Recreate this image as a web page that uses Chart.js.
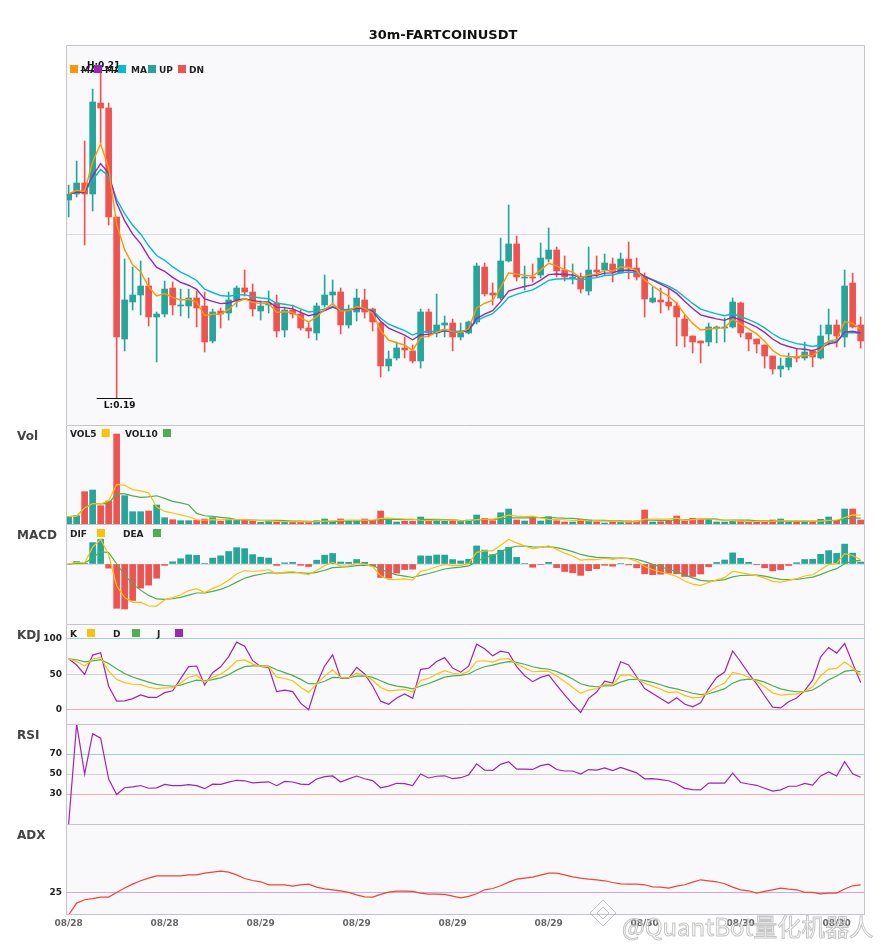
<!DOCTYPE html>
<html>
<head>
<meta charset="utf-8">
<title>30m-FARTCOINUSDT</title>
<script src="https://cdn.jsdelivr.net/npm/chart.js@4.4.1/dist/chart.umd.min.js"></script>
<style>
  body { margin: 0; background: #fff; }
  #wrap { position: relative; width: 885px; height: 950px; }
  #wrap canvas { position: absolute; left: 0; }
</style>
</head>
<body>
<div id="wrap">
  <canvas id="main" width="885" height="425" style="top:0px"></canvas>
  <canvas id="vol" width="885" height="99" style="top:425px"></canvas>
  <canvas id="macd" width="885" height="100" style="top:524px"></canvas>
  <canvas id="kdj" width="885" height="100" style="top:624px"></canvas>
  <canvas id="rsi" width="885" height="100" style="top:724px"></canvas>
  <canvas id="adx" width="885" height="126" style="top:824px"></canvas>
</div>
<script>
// 30m candles
const opens = [0.20175,0.20205,0.2026,0.20205,0.2066,0.20635,0.2009,0.1948,0.19665,0.197,
  0.19745,0.1959,0.19605,0.19735,0.19645,0.19645,0.19685,0.19645,0.1947,0.1962,
  0.1961,0.19675,0.19735,0.19715,0.1962,0.1965,0.1966,0.19525,0.19625,0.19605,
  0.19535,0.1951,0.1965,0.197,0.19715,0.1955,0.19615,0.19675,0.1963,0.1956,
  0.19345,0.19385,0.19435,0.1942,0.1937,0.19615,0.1951,0.1955,0.1956,0.1949,
  0.1951,0.19565,0.1984,0.1971,0.19685,0.1987,0.19955,0.19785,0.1979,0.198,
  0.1988,0.19925,0.19825,0.19785,0.1979,0.1972,0.19825,0.19825,0.19855,0.1981,
  0.1988,0.19835,0.1979,0.19665,0.19675,0.19665,0.19645,0.1958,0.19495,0.1947,
  0.19465,0.19535,0.19535,0.1954,0.1966,0.1951,0.1948,0.1945,0.19395,0.1933,
  0.1934,0.1939,0.19385,0.1942,0.19385,0.19505,0.1955,0.1949,0.1976,0.1955];
const highs = [0.2025,0.2037,0.2047,0.2073,0.20825,0.2066,0.2009,0.1988,0.1984,0.1987,
  0.19785,0.19615,0.1977,0.19765,0.1973,0.1973,0.1972,0.19715,0.1963,0.19635,
  0.19715,0.19745,0.19825,0.19755,0.1967,0.1972,0.197,0.1964,0.1965,0.19625,
  0.1956,0.1966,0.198,0.19775,0.19735,0.1965,0.1973,0.1973,0.19635,0.19565,
  0.1942,0.19465,0.1949,0.1945,0.1963,0.1963,0.19705,0.19595,0.1958,0.1956,
  0.1957,0.1986,0.1986,0.1976,0.19985,0.2015,0.19995,0.19845,0.19855,0.1996,
  0.20035,0.1994,0.19895,0.19855,0.1981,0.1994,0.19895,0.19905,0.19885,0.1991,
  0.19965,0.19885,0.1981,0.1974,0.19735,0.1973,0.19665,0.196,0.19495,0.1947,
  0.1956,0.19545,0.19585,0.19685,0.19665,0.1951,0.1948,0.1945,0.19395,0.19385,
  0.1941,0.1943,0.19465,0.19425,0.1955,0.1963,0.19575,0.19825,0.1981,0.1959];
const lows = [0.2009,0.2019,0.1995,0.2012,0.2046,0.2005,0.19185,0.1942,0.19625,0.196,
  0.19545,0.19365,0.1959,0.196,0.19595,0.19585,0.1954,0.19415,0.1946,0.19535,
  0.19575,0.1964,0.19695,0.19595,0.19575,0.1961,0.1949,0.1949,0.19585,0.19525,
  0.19485,0.19475,0.1964,0.1965,0.19505,0.19535,0.1957,0.19585,0.1952,0.1929,
  0.1932,0.19375,0.19385,0.1936,0.19335,0.1949,0.1949,0.1949,0.1942,0.19475,
  0.19505,0.19555,0.19695,0.1965,0.19675,0.19865,0.1977,0.19725,0.19765,0.19785,
  0.19865,0.1979,0.1977,0.19755,0.1971,0.197,0.1979,0.198,0.19765,0.1981,
  0.1978,0.19775,0.1959,0.1966,0.1961,0.19625,0.19445,0.1944,0.1941,0.1936,
  0.19445,0.1946,0.19465,0.19535,0.1949,0.1942,0.1941,0.19335,0.19305,0.1929,
  0.19325,0.19365,0.19375,0.1934,0.1938,0.1945,0.1944,0.1944,0.19535,0.19435];
const closes = [0.20205,0.2026,0.20205,0.20665,0.20635,0.2009,0.1949,0.19675,0.197,0.19745,
  0.1959,0.19605,0.1973,0.1965,0.1965,0.19685,0.19635,0.19465,0.19615,0.19605,
  0.19675,0.19735,0.19715,0.1963,0.19645,0.1966,0.1952,0.19625,0.19605,0.19535,
  0.1952,0.19645,0.197,0.19715,0.1955,0.1962,0.19685,0.19615,0.19565,0.19345,
  0.1938,0.19435,0.19425,0.1937,0.19615,0.1951,0.1955,0.1956,0.1949,0.1951,
  0.19565,0.19845,0.19705,0.197,0.1987,0.19955,0.1979,0.1979,0.19785,0.19885,
  0.19925,0.1982,0.1979,0.1979,0.1973,0.19825,0.19815,0.1986,0.19815,0.1988,
  0.19835,0.1979,0.1968,0.19685,0.19665,0.19645,0.1959,0.19495,0.19465,0.1946,
  0.1954,0.1954,0.1954,0.19665,0.1951,0.1948,0.19455,0.19395,0.1933,0.19345,
  0.19385,0.19385,0.19415,0.1939,0.19495,0.1955,0.19495,0.19745,0.1954,0.1947];
// volume in millions
const volumes = [0.73,0.83,3.23,3.40,1.83,2.30,9.00,2.83,1.23,1.23,
  1.30,1.90,0.63,0.43,0.33,0.33,0.37,0.50,0.63,0.27,
  0.43,0.43,0.37,0.27,0.17,0.30,0.23,0.23,0.20,0.20,
  0.20,0.33,0.50,0.27,0.50,0.33,0.33,0.50,0.33,1.30,
  0.43,0.20,0.27,0.27,0.70,0.27,0.43,0.27,0.37,0.27,
  0.40,0.90,0.57,0.33,1.13,1.50,0.40,0.30,0.57,0.30,
  0.73,0.33,0.20,0.20,0.47,0.40,0.23,0.10,0.23,0.20,
  0.30,0.30,1.40,0.20,0.23,0.30,0.80,0.30,0.57,0.47,
  0.47,0.20,0.20,0.30,0.30,0.23,0.23,0.23,0.40,0.50,
  0.23,0.23,0.23,0.23,0.47,0.70,0.37,1.50,1.50,0.40];
const adxValues = [0,13.1,16.8,17.9,19.7,19.7,24.8,29.6,33.9,37.6,
  40.5,43,43,43,43,44.1,44.1,46,47.1,48.2,
  47.1,44.1,40.1,37.9,36.5,33.2,33,33,31.8,33,
  33.9,30.7,28.8,27.7,26.6,24.8,22.2,20,19.7,22.6,
  25.2,26.3,26.3,25.9,24.1,23,23,22.6,20.8,18.8,
  20.4,23.3,27.7,29.1,32.1,36.1,39.4,40.5,41.6,43.8,
  46,46,44.1,41.9,40.5,39.4,38.7,37.6,35.7,34.3,
  34,34,33.2,31,30.7,29.6,31.8,33.2,36.1,38.7,
  37.6,36.5,34.3,30.7,27.7,26.6,24.1,25.9,27.7,29.6,
  28.5,27.7,24.8,24.8,23.3,24.1,24.1,28.5,32.1,33];
const tickLabels = ['08/28','08/28','08/29','08/29','08/29','08/29','08/30','08/30','08/30'];
const tickStep = 12;

const UP = '#26a69a', DN = '#ef5350';
const YEL = '#ffc107', GRN = '#4caf50', PUR = '#9c27b0', ORG = '#ff9800', CYN = '#00bcd4', RED = '#f44336';
const FONT = '"DejaVu Sans", sans-serif';
Chart.defaults.font.family = FONT;

// indicator helpers
function ema(src, n) {
  const k = 2 / (n + 1), out = [];
  src.forEach((v, i) => out.push(i === 0 ? v : out[i - 1] + k * (v - out[i - 1])));
  return out;
}
function sma(src, n) {
  return src.map((v, i) => {
    const w = src.slice(Math.max(0, i - n + 1), i + 1);
    return w.reduce((a, b) => a + b, 0) / w.length;
  });
}

const ma5 = ema(closes, 5), ma10 = ema(closes, 10), ma13 = ema(closes, 13);
const vol5 = sma(volumes, 5), vol10 = sma(volumes, 10);

// MACD 6 / 13 / 5
const eFast = ema(closes, 6), eSlow = ema(closes, 13);
const dif = eFast.map((v, i) => v - eSlow[i]);
const dea = ema(dif, 5);
const hist = dif.map((v, i) => 2 * (v - dea[i]));

const kLine = [], dLine = [], jLine = [];
closes.forEach((c, i) => {
  const hh = Math.max(...highs.slice(Math.max(0, i - 8), i + 1));
  const ll = Math.min(...lows.slice(Math.max(0, i - 8), i + 1));
  const rsv = hh === ll ? 50 : (c - ll) / (hh - ll) * 100;
  const k = i === 0 ? rsv : (2 * kLine[i - 1] + rsv) / 3;
  const d = i === 0 ? rsv : (2 * dLine[i - 1] + k) / 3;
  kLine.push(k); dLine.push(d); jLine.push(3 * k - 2 * d);
});

const rsi = [0];
let avgG = 0, avgL = 0;
for (let i = 1; i < closes.length; i++) {
  const ch = closes[i] - closes[i - 1];
  const g = Math.max(ch, 0), l = Math.max(-ch, 0);
  if (i <= 14) { avgG = (avgG * (i - 1) + g) / i; avgL = (avgL * (i - 1) + l) / i; }
  else { avgG = (avgG * 13 + g) / 14; avgL = (avgL * 13 + l) / 14; }
  rsi.push(avgG + avgL === 0 ? 0 : 100 * avgG / (avgG + avgL));
}

const pts = arr => arr.map((v, i) => ({ x: i, y: v }));
const candleColor = closes.map((c, i) => c >= opens[i] ? UP : DN);

// shared x range
const xMin = -0.33, xMax = 99.545;

function line(data, color, width) {
  return { type: 'line', data: pts(data), borderColor: color, borderWidth: width || 1.3,
    pointRadius: 0, fill: false, tension: 0 };
}

// panel background, border, name and legend
const panelPlugin = {
  id: 'panel',
  beforeDraw(chart) {
    const { ctx, chartArea: a } = chart;
    ctx.save();
    ctx.fillStyle = '#f9f9fc';
    ctx.fillRect(a.left, a.top, a.right - a.left, a.bottom - a.top);
    ctx.restore();
  },
  afterDraw(chart, args, opts) {
    const { ctx, chartArea: a } = chart;
    ctx.save();
    ctx.strokeStyle = '#c4c4cc';
    ctx.lineWidth = 1;
    ctx.beginPath();
    ctx.moveTo(a.left + 0.5, a.bottom);
    ctx.lineTo(a.left + 0.5, a.top + 0.5);
    ctx.lineTo(a.right - 0.5, a.top + 0.5);
    ctx.lineTo(a.right - 0.5, a.bottom);
    if (opts.closeBottom) {
      ctx.moveTo(a.left, a.bottom - 0.5);
      ctx.lineTo(a.right, a.bottom - 0.5);
    }
    ctx.stroke();
    if (opts.name) {
      ctx.font = 'bold 12px ' + FONT;
      ctx.fillStyle = '#444';
      ctx.textAlign = 'left';
      ctx.textBaseline = 'alphabetic';
      ctx.fillText(opts.name, 17, a.top + 14.5);
    }
    ctx.font = 'bold 9px ' + FONT;
    ctx.textBaseline = 'alphabetic';
    (opts.legend || []).forEach(([label, color, tx, bx]) => {
      ctx.fillStyle = '#222';
      ctx.fillText(label, a.left + tx, a.top + opts.legendY + 7.5);
      ctx.fillStyle = color;
      ctx.fillRect(a.left + bx, a.top + opts.legendY, 8, 8);
    });
    if (opts.title) {
      ctx.font = 'bold 13px ' + FONT;
      ctx.fillStyle = '#111';
      ctx.textAlign = 'center';
      ctx.fillText(opts.title, 443, 39);
    }
    ctx.restore();
  }
};

// H / L markers on the price panel
const extremePlugin = {
  id: 'extremes',
  afterDatasetsDraw(chart) {
    const { ctx } = chart;
    const xs = chart.scales.x, ys = chart.scales.y;
    const hi = highs.indexOf(Math.max(...highs));
    const lo = lows.indexOf(Math.min(...lows));
    ctx.save();
    ctx.strokeStyle = '#111';
    ctx.fillStyle = '#111';
    ctx.lineWidth = 1;
    ctx.font = 'bold 9px ' + FONT;
    ctx.textAlign = 'center';
    const hx = xs.getPixelForValue(hi), hy = Math.round(ys.getPixelForValue(highs[hi])) + 0.5;
    ctx.beginPath(); ctx.moveTo(hx - 20, hy); ctx.lineTo(hx + 20, hy); ctx.stroke();
    ctx.textBaseline = 'bottom';
    ctx.fillText('H:' + highs[hi].toFixed(2), hx + 3, hy - 0.5);
    const lx = xs.getPixelForValue(lo), ly = Math.round(ys.getPixelForValue(lows[lo])) + 0.5;
    ctx.beginPath(); ctx.moveTo(lx - 20, ly); ctx.lineTo(lx + 16, ly); ctx.stroke();
    ctx.textBaseline = 'top';
    ctx.fillText('L:' + lows[lo].toFixed(2), lx + 3, ly + 3);
    ctx.restore();
  }
};

// watermark under the last panel
const watermarkPlugin = {
  id: 'watermark',
  afterDraw(chart) {
    const { ctx } = chart;
    ctx.save();
    ctx.strokeStyle = 'rgba(150,150,150,0.55)';
    ctx.fillStyle = 'rgba(255,255,255,0.55)';
    ctx.lineWidth = 1;
    [[603, 89, 13], [603, 89, 6]].forEach(([cx, cy, r]) => {
      ctx.beginPath();
      ctx.moveTo(cx, cy - r); ctx.lineTo(cx + r, cy); ctx.lineTo(cx, cy + r); ctx.lineTo(cx - r, cy);
      ctx.closePath(); ctx.stroke();
    });
    ctx.font = '24px "Noto Sans CJK SC", sans-serif';
    ctx.textAlign = 'left';
    ctx.textBaseline = 'alphabetic';
    ctx.fillText('@QuantBot量化机器人', 622, 112);
    ctx.strokeText('@QuantBot量化机器人', 622, 112);
    ctx.restore();
  }
};

function yAxis(o) {
  const ticks = o.ticks || [];
  return {
    min: o.min, max: o.max,
    afterFit: s => { s.width = 66; s.paddingTop = 0; s.paddingBottom = 0; },
    afterBuildTicks: s => { s.ticks = ticks.map(v => ({ value: v })); },
    border: { display: false },
    grid: {
      drawTicks: false,
      color: c => (o.gridColors && o.gridColors[c.tick.value]) || '#dcdce0',
      display: ticks.length > 0
    },
    ticks: {
      display: !!o.labels, padding: 4, color: '#222',
      font: { size: 9, weight: 'bold' }
    }
  };
}

function xAxis(show) {
  return {
    type: 'linear', min: xMin, max: xMax, display: show, offset: false,
    afterFit: s => { if (show) s.height = 35; },
    afterBuildTicks: s => { s.ticks = tickLabels.map((t, k) => ({ value: k * tickStep })); },
    grid: { display: false, drawTicks: false },
    border: { display: false },
    ticks: {
      padding: 3, color: '#666', maxRotation: 0, autoSkip: false,
      font: { size: 9, weight: 'bold' },
      callback: (v, idx) => tickLabels[idx]
    }
  };
}

function panel(id, datasets, y, panelOpts, extraPlugins, padTop, showX) {
  return new Chart(document.getElementById(id), {
    type: 'bar',
    data: { datasets },
    options: {
      responsive: false,
      animation: false,
      layout: { padding: { top: padTop || 0, right: 20, left: 0, bottom: 0 } },
      scales: { x: xAxis(!!showX), y: yAxis(y) },
      plugins: { legend: { display: false }, tooltip: { enabled: false }, panel: panelOpts }
    },
    plugins: [panelPlugin].concat(extraPlugins || [])
  });
}

// price panel
panel('main', [
  line(ma5, ORG, 1.4), line(ma10, PUR, 1.4), line(ma13, CYN, 1.4),
  { data: opens.map((o, i) => ({ x: i, y: [o, closes[i]] })), backgroundColor: candleColor,
    barThickness: 6, grouped: false, minBarLength: 1, borderWidth: 0 },
  { data: lows.map((l, i) => ({ x: i, y: [l, highs[i]] })), backgroundColor: candleColor,
    barThickness: 1, grouped: false, borderWidth: 0 }
], { min: 0.1905, max: 0.2095, ticks: [0.2] },
{ title: '30m-FARTCOINUSDT', legendY: 20, legend: [
  ['', ORG, 0, 4], ['MA', '#000', 15, -99], ['', PUR, 0, 28], ['MA', '#000', 39, -99],
  ['', CYN, 0, 52], ['MA', '#000', 65, -99], ['', UP, 0, 82], ['UP', '#000', 93, -99],
  ['', DN, 0, 112], ['DN', '#000', 123, -99]
] }, [extremePlugin], 45);

// volume
panel('vol', [
  line(vol5, YEL, 1.2), line(vol10, GRN, 1.2),
  { data: pts(volumes), backgroundColor: candleColor, barThickness: 6, grouped: false, borderWidth: 0 }
], { min: 0, max: Math.max(...volumes) * 1.1 },
{ name: 'Vol', legendY: 4, legend: [['VOL5', YEL, 4, 35.7], ['VOL10', GRN, 59, 97]] });

// MACD
const macdLow = Math.min(...dif, ...dea, ...hist);
panel('macd', [
  line(dif, YEL, 1.2), line(dea, GRN, 1.2),
  { data: pts(hist), backgroundColor: hist.map(v => v >= 0 ? UP : DN), barThickness: 6, grouped: false, borderWidth: 0 }
], { min: macdLow * 60 / 45, max: -macdLow * 40 / 45, ticks: [0] },
{ name: 'MACD', legendY: 5, legend: [['DIF', YEL, 4, 31], ['DEA', GRN, 57, 87]] });

// KDJ
panel('kdj', [line(kLine, YEL, 1.2), line(dLine, GRN, 1.2), line(jLine, PUR, 1.2)],
  { min: -20, max: 121, ticks: [0, 50, 100], labels: true,
    gridColors: { 0: 'rgba(239,83,80,0.45)', 50: '#cfcfd4', 100: 'rgba(38,166,154,0.45)' } },
  { name: 'KDJ', legendY: 5, legend: [['K', YEL, 4, 21], ['D', GRN, 47, 66], ['J', PUR, 91, 109]] });

// RSI
panel('rsi', [line(rsi, PUR, 1.2)],
  { min: 0, max: 100, ticks: [30, 50, 70], labels: true,
    gridColors: { 30: 'rgba(239,83,80,0.45)', 50: '#cfcfd4', 70: 'rgba(38,166,154,0.45)' } },
  { name: 'RSI' });

// ADX with the time axis
panel('adx', [line(adxValues, RED, 1.2)],
  { min: 0, max: 100, ticks: [25], labels: true, gridColors: { 25: 'rgba(156,39,176,0.4)' } },
  { name: 'ADX', closeBottom: true }, [watermarkPlugin], 0, true);
</script>
</body>
</html>
